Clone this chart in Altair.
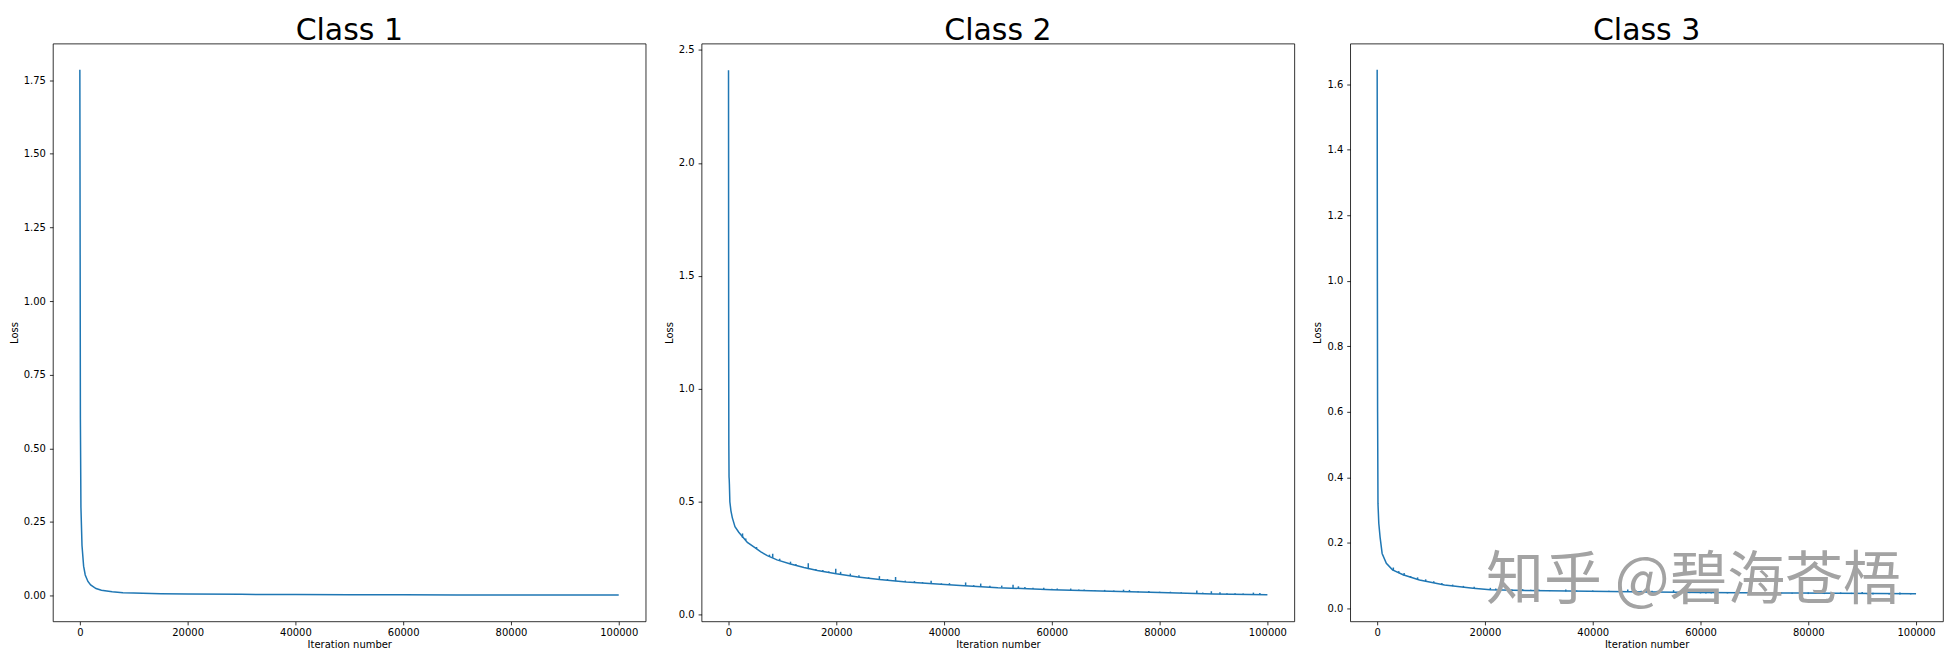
import altair as alt
import pandas as pd

FONT = "DejaVu Sans"
LINE_COLOR = "#1f77b4"

titles = ["Class 1", "Class 2", "Class 3"]
x_ticks = [0, 20000, 40000, 60000, 80000, 100000]

# Class 1 loss curve
c1_iter = [0, 100, 200, 400, 700, 1000, 1500, 2000, 3000, 4000, 6000, 8000, 10000,
           15000, 20000, 30000, 40000, 50000, 60000, 70000, 80000, 90000, 100000]
c1_loss = [1.785, 0.60, 0.30, 0.17, 0.10, 0.07, 0.048, 0.036, 0.024, 0.018, 0.013, 0.010, 0.0085,
           0.0065, 0.0055, 0.0042, 0.0035, 0.0030, 0.0026, 0.0023, 0.0021, 0.0018, 0.0016]

# Class 2 loss curve
c2_iter = [0, 30, 60, 100, 130, 160, 250, 450, 700, 1200, 1900, 2800, 3500, 4700, 6000, 7200, 9000,
           11500, 14000, 16500, 20000, 24000, 28000, 33000, 38000, 43000, 50000, 60000, 69000,
           80000, 90000, 100000]
c2_loss = [2.41, 1.20, 0.75, 0.61, 0.60, 0.58, 0.50, 0.46, 0.43, 0.39, 0.365, 0.34, 0.32, 0.30, 0.278,
           0.262, 0.243, 0.225, 0.209, 0.196, 0.181, 0.167, 0.156, 0.145, 0.137, 0.130, 0.120, 0.111,
           0.105, 0.098, 0.092, 0.088]
# Class 2 noise spikes
c2_spike_iter = [2600, 3200, 5200, 7600, 8200, 9500, 11500, 12500, 14800, 16200, 17500, 18600, 19900,
                 20800, 22600, 24200, 26000, 28000, 29500, 31000, 32800, 34500, 36000, 37600, 39500,
                 41000, 44000, 45500, 46800, 48500, 50700, 52800, 53800, 55000, 56500, 58500, 60000,
                 61000, 63500, 65000, 66000, 68000, 69800, 71500, 73300, 74400, 76000, 78000, 80000,
                 82000, 84000, 86900, 88000, 89600, 91200, 92500, 94000, 95500, 97400, 98600]
c2_spike_low = [0.340, 0.330, 0.292, 0.258, 0.252, 0.240, 0.225, 0.218, 0.202, 0.197, 0.190, 0.186,
                0.182, 0.179, 0.172, 0.167, 0.161, 0.156, 0.153, 0.149, 0.146, 0.142, 0.140, 0.137,
                0.135, 0.133, 0.128, 0.126, 0.125, 0.123, 0.120, 0.118, 0.117, 0.116, 0.114, 0.113,
                0.111, 0.110, 0.108, 0.108, 0.107, 0.106, 0.104, 0.103, 0.102, 0.101, 0.100, 0.099,
                0.098, 0.097, 0.096, 0.094, 0.094, 0.092, 0.091, 0.091, 0.090, 0.090, 0.089, 0.088]
c2_spike_high = [0.360, 0.338, 0.300, 0.266, 0.270, 0.248, 0.235, 0.225, 0.228, 0.203, 0.198, 0.192,
                 0.204, 0.190, 0.182, 0.175, 0.166, 0.171, 0.158, 0.167, 0.151, 0.149, 0.145, 0.150,
                 0.139, 0.140, 0.143, 0.131, 0.138, 0.128, 0.129, 0.133, 0.126, 0.123, 0.119, 0.120,
                 0.115, 0.116, 0.116, 0.112, 0.112, 0.110, 0.110, 0.107, 0.111, 0.110, 0.104, 0.105,
                 0.102, 0.102, 0.100, 0.107, 0.098, 0.104, 0.100, 0.095, 0.095, 0.094, 0.098, 0.096]

# Class 3 loss curve
c3_iter = [0, 40, 80, 150, 300, 540, 920, 1700, 2850, 4800, 7850, 12500, 17800, 21000, 31700,
           47000, 60000, 78000, 100000]
c3_loss = [1.644, 1.00, 0.60, 0.32, 0.26, 0.218, 0.168, 0.138, 0.118, 0.103, 0.087, 0.072, 0.062,
           0.057, 0.054, 0.051, 0.049, 0.047, 0.045]
# Class 3 noise spikes
c3_spike_iter = [3000, 4000, 5000, 6200, 7500, 9000, 10500, 12000, 14000, 16000, 18000, 21000, 22000,
                 23000, 25000, 27000, 28500, 30000, 32000, 35000, 37000, 40000, 43000, 46500, 47500,
                 48000, 49000, 50000, 51000, 52000, 55000, 58000, 59000, 60000, 61000, 62000, 65000,
                 67000, 69000, 72000, 75000, 77000, 80000, 83000, 86000, 88000, 90000, 91000, 92000,
                 95000, 97000, 99000]
c3_spike_low = [0.115, 0.108, 0.100, 0.094, 0.088, 0.083, 0.078, 0.073, 0.068, 0.064, 0.061, 0.057,
                0.056, 0.055, 0.054, 0.054, 0.053, 0.053, 0.053, 0.052, 0.052, 0.051, 0.051, 0.050,
                0.050, 0.050, 0.049, 0.049, 0.049, 0.049, 0.049, 0.047, 0.047, 0.046, 0.046, 0.046,
                0.046, 0.046, 0.046, 0.045, 0.045, 0.045, 0.044, 0.044, 0.044, 0.044, 0.044, 0.043,
                0.043, 0.043, 0.043, 0.043]
c3_spike_high = [0.125, 0.114, 0.108, 0.099, 0.095, 0.089, 0.083, 0.078, 0.073, 0.069, 0.066, 0.063,
                 0.061, 0.061, 0.058, 0.059, 0.057, 0.058, 0.056, 0.058, 0.055, 0.055, 0.054, 0.058,
                 0.055, 0.056, 0.054, 0.055, 0.054, 0.054, 0.056, 0.052, 0.051, 0.051, 0.052, 0.051,
                 0.050, 0.049, 0.050, 0.049, 0.050, 0.048, 0.049, 0.048, 0.049, 0.048, 0.050, 0.047,
                 0.048, 0.047, 0.049, 0.047]

y_domains = [[-0.0876, 1.874], [-0.0294, 2.528], [-0.0394, 1.724]]
y_ticks = [[0, 0.25, 0.5, 0.75, 1.0, 1.25, 1.5, 1.75],
           [0, 0.5, 1.0, 1.5, 2.0, 2.5],
           [0, 0.2, 0.4, 0.6, 0.8, 1.0, 1.2, 1.4, 1.6]]
y_formats = [".2f", ".1f", ".1f"]

watermark_text = ["知乎 @碧海苍梧"]
watermark_iter = [58700]
watermark_loss = [0.082]


def panel(i, it, loss, spikes=None, watermark=False):
    xsc = alt.Scale(domain=[-5000, 105000], nice=False, zero=False)
    ysc = alt.Scale(domain=y_domains[i], nice=False, zero=False)
    xax = alt.Axis(values=x_ticks, format="d", title="Iteration number",
                   labelPadding=3, titlePadding=2)
    yax = alt.Axis(values=y_ticks[i], format=y_formats[i], title="Loss")
    df = pd.DataFrame({"iter": it, "loss": loss})
    layers = [
        alt.Chart(df).mark_line(color=LINE_COLOR, strokeWidth=1.5).encode(
            x=alt.X("iter:Q", scale=xsc, axis=xax),
            y=alt.Y("loss:Q", scale=ysc, axis=yax),
        )
    ]
    if spikes is not None:
        sdf = pd.DataFrame({"iter": spikes[0], "loss": spikes[1], "high": spikes[2]})
        layers.append(
            alt.Chart(sdf).mark_rule(color=LINE_COLOR, strokeWidth=1.5).encode(
                x=alt.X("iter:Q", scale=xsc, axis=xax),
                y=alt.Y("loss:Q", scale=ysc, axis=yax),
                y2="high:Q",
            )
        )
    if watermark:
        wdf = pd.DataFrame({"iter": watermark_iter, "loss": watermark_loss, "t": watermark_text})
        layers.append(
            alt.Chart(wdf).mark_text(font="Noto Sans CJK SC", fontSize=58, color="#a3a3a3",
                                     align="center", baseline="middle").encode(
                x=alt.X("iter:Q", scale=xsc, axis=xax),
                y=alt.Y("loss:Q", scale=ysc, axis=yax),
                text="t:N",
            )
        )
    return alt.layer(*layers).properties(
        width=594, height=579,
        title=alt.TitleParams(titles[i], fontSize=30, font=FONT, fontWeight="normal",
                              color="black", offset=-2, frame="group", anchor="middle"),
    )


p1 = panel(0, c1_iter, c1_loss)
p2 = panel(1, c2_iter, c2_loss, spikes=(c2_spike_iter, c2_spike_low, c2_spike_high))
p3 = panel(2, c3_iter, c3_loss, spikes=(c3_spike_iter, c3_spike_low, c3_spike_high), watermark=True)

chart = alt.hconcat(p1, p2, p3, spacing=56, bounds="flush").properties(
    padding={"left": 0, "top": 6, "right": 0, "bottom": 0},
    background="white",
).configure_view(
    stroke="black", strokeWidth=0.8
).configure_axis(
    labelFont=FONT, labelFontSize=10, labelColor="black",
    titleFont=FONT, titleFontSize=10, titleFontWeight="normal", titleColor="black",
    tickColor="black", tickSize=3.5, tickWidth=0.8, labelPadding=4, titlePadding=4,
    grid=False, domain=False, labelFlush=False, labelOverlap=False,
)

chart.save("out.html", embed_options={"renderer": "svg", "actions": False})
